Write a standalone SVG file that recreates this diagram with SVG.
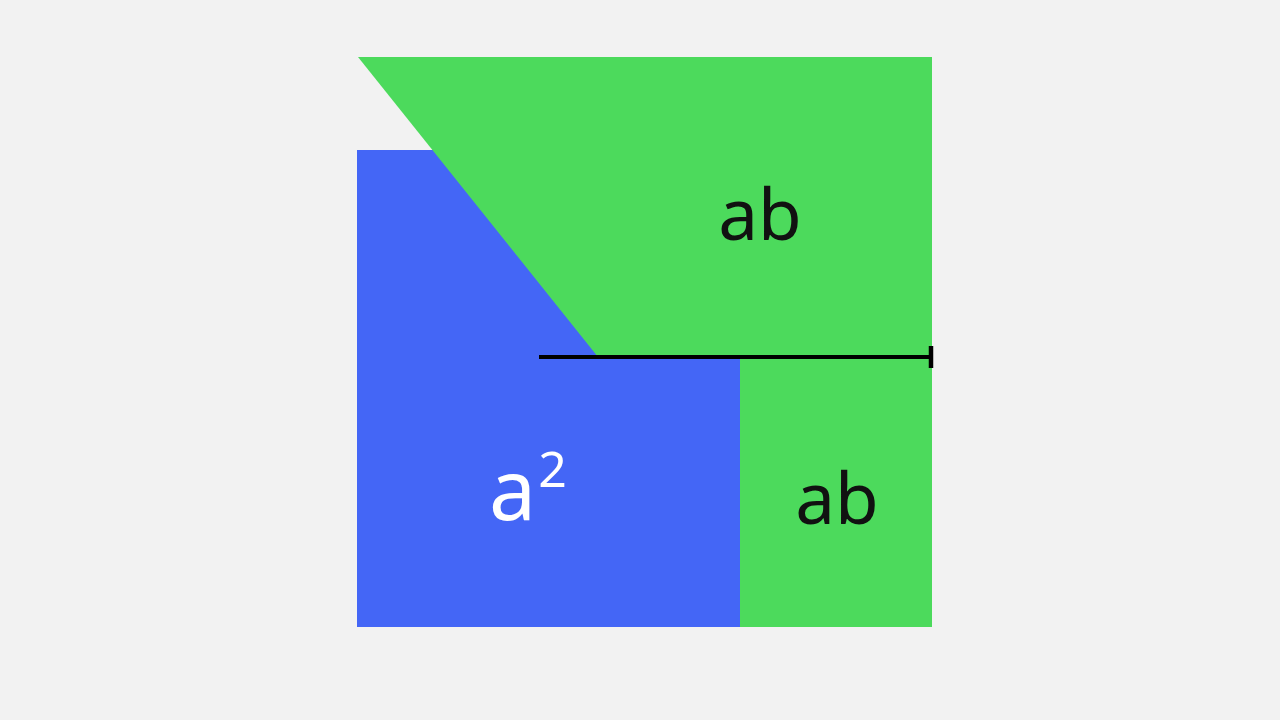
<svg xmlns="http://www.w3.org/2000/svg" width="1280" height="720" viewBox="0 0 1280 720">
  <style>
    .green { fill: #4cda5c; }
    .blue { fill: #4466f6; }
    .lbl { font-family: "Noto Sans", "Open Sans", "DejaVu Sans", sans-serif; }
  </style>
  <rect x="0" y="0" width="1280" height="720" fill="#f2f2f2"/>
  <g id="square-a2">
    <rect class="blue" x="357" y="150" width="384" height="477"/>
    <text class="lbl" x="489" y="520" font-size="84" fill="#ffffff">a<tspan font-size="50" dx="2" dy="-33">2</tspan></text>
  </g>
  <g id="rect-ab-bottom">
    <rect class="green" x="740" y="357" width="192" height="270"/>
    <text class="lbl" x="837" y="524" font-size="71" fill="#111111" text-anchor="middle">ab</text>
  </g>
  <g id="quad-ab-top">
    <polygon class="green" points="358,57 932,57 932,357 598,357"/>
    <text class="lbl" x="760" y="240" font-size="71" fill="#111111" text-anchor="middle">ab</text>
  </g>
  <g id="connectors">
    <line x1="539" y1="357" x2="931" y2="357" stroke="#000" stroke-width="4"/>
    <line x1="931" y1="346" x2="931" y2="368" stroke="#000" stroke-width="4.5"/>
  </g>
</svg>
